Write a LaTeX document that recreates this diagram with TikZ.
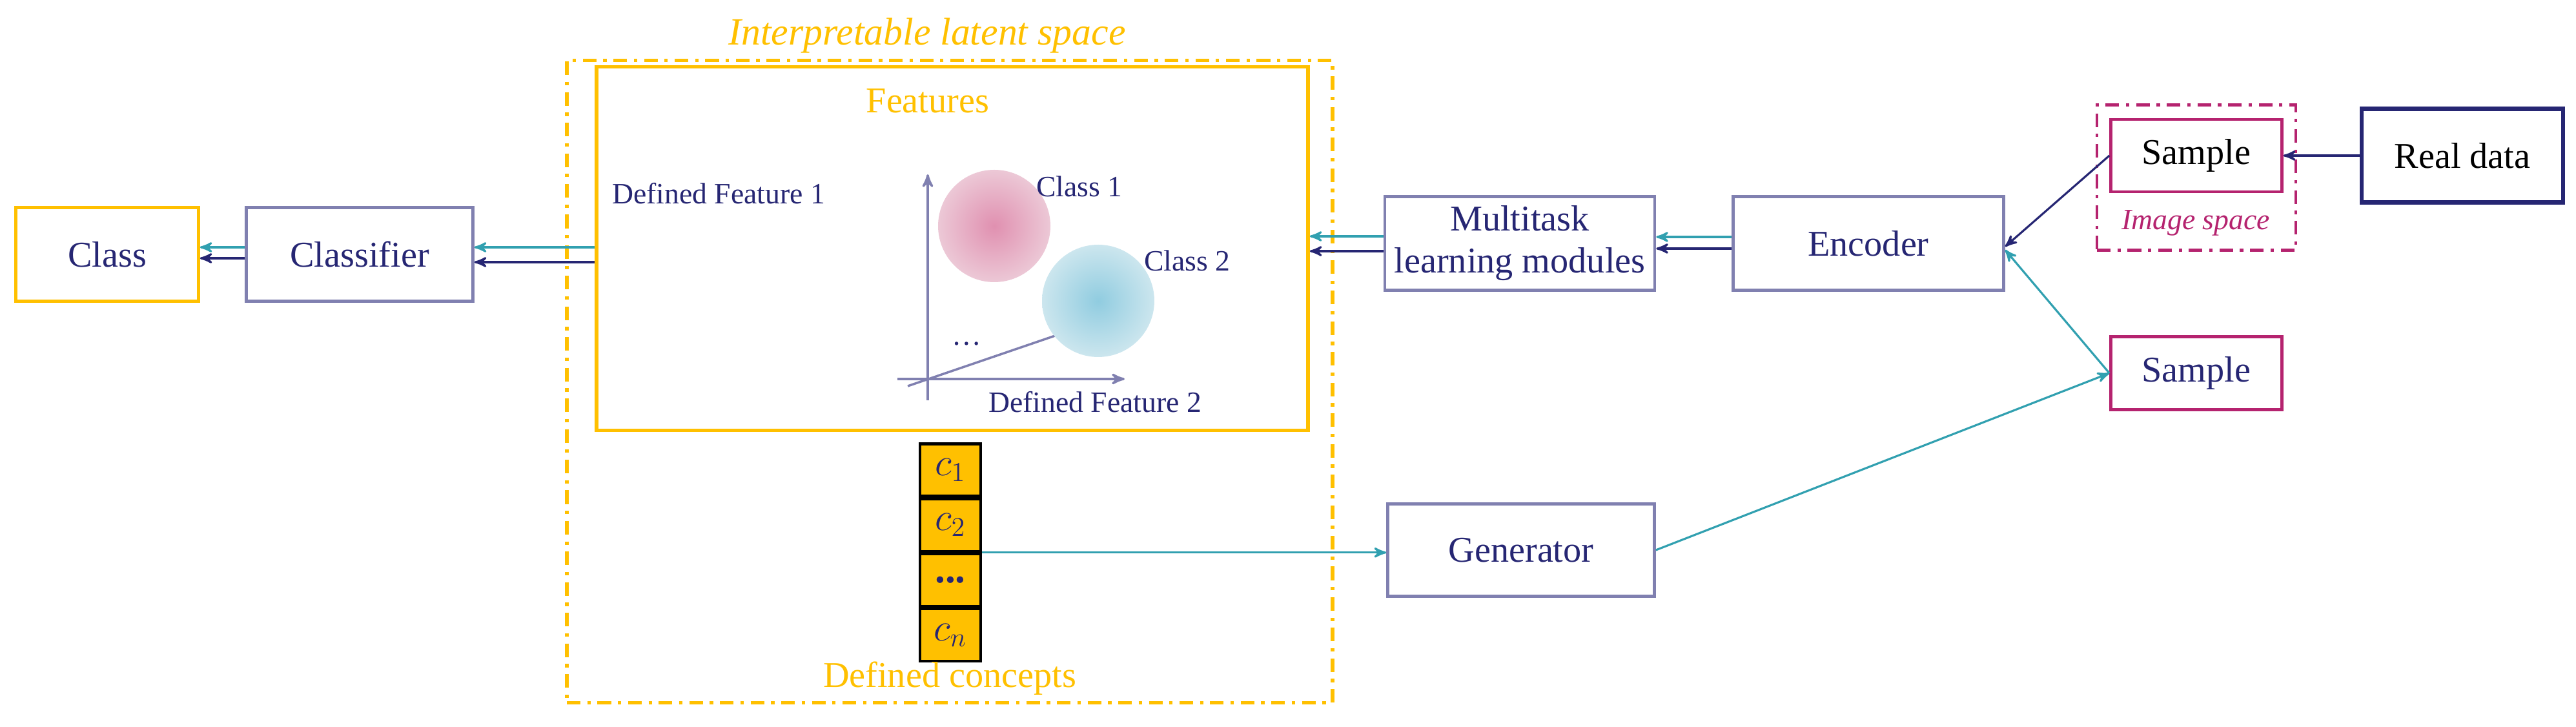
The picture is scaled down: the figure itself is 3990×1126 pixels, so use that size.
\documentclass[tikz,border=0pt]{standalone}
\usepackage{fontspec}
\setmainfont{Liberation Serif}
\usetikzlibrary{arrows,positioning}
\definecolor{gold}{HTML}{FFC000}
\definecolor{navy}{HTML}{262673}
\definecolor{lilac}{HTML}{8080B0}
\definecolor{plum}{HTML}{B5236F}
\definecolor{teal}{HTML}{31A0B0}
\definecolor{rosein}{HTML}{E090B0}
\definecolor{roseout}{HTML}{ECC8D6}
\definecolor{skyin}{HTML}{90CCE0}
\definecolor{skyout}{HTML}{CCE6EE}
\begin{document}
\begin{tikzpicture}[x=0.1mm,y=-0.1mm,>=stealth',semithick,
    box/.style={draw=lilac,line width=1.3pt,text=navy,font=\fontsize{16}{18.5}\selectfont,
                minimum height=14.5mm,align=center},
    cell/.style={draw=black,line width=1.2pt,fill=gold,text=navy,minimum width=9.4mm,
                 minimum height=8.1mm,inner sep=0pt,font=\fontsize{18}{20}\selectfont},
    lbl/.style={text=navy,font=\fontsize{13}{15}\selectfont},
    dd/.style={dash pattern=on 6pt off 3pt on 1.5pt off 3pt},
    cy/.style={teal,line width=0.9pt,->},
    nv/.style={navy,line width=0.9pt,->}]
  \useasboundingbox (0,0) rectangle (3990,1126);

  % left side
  \node[box,draw=gold,minimum width=28.3mm] (cls) at (166,394) {Class};
  \node[box,minimum width=35.1mm] (clf) at (557,394) {Classifier};

  % latent space
  \node[draw=gold,line width=1.5pt,dd,minimum width=118.6mm,minimum height=99.5mm] (lat) at (1471,591) {};
  \node[text=gold,font=\itshape\fontsize{17}{19}\selectfont] (latt) at (1436,55) {Interpretable latent space};
  \node[draw=gold,line width=1.6pt,minimum width=110.2mm,minimum height=56.3mm] (feat) at (1475,385) {};
  \node[text=gold,font=\fontsize{16}{18}\selectfont] (featt) at (1437,156) {Features};
  \node[lbl] (df1) at (1113,300) {Defined Feature 1};
  \node[lbl] (df2) at (1696,623) {Defined Feature 2};

  % feature plot
  \draw[lilac,line width=1pt,->] (1437,620) -- (1437,270);
  \draw[lilac,line width=1pt,->] (1390,587) -- (1742,587);
  \draw[lilac,line width=1pt] (1406,598) -- (1640,518);
  \shade[inner color=rosein,outer color=roseout,shading=radial] (1540,350) ellipse (87 and 87);
  \shade[inner color=skyin,outer color=skyout,shading=radial] (1701,466) ellipse (87 and 87);
  \node[lbl] (c1l) at (1672,289) {Class 1};
  \node[lbl] (c2l) at (1839,404) {Class 2};
  \node[lbl] (dots) at (1497,532) {\dots};

  % concepts
  \node[cell] (c1) at (1472,728) {$c_1$};
  \node[cell,below=0pt of c1] (c2) {$c_2$};
  \node[cell,below=0pt of c2] (c3) {\textbf{...}};
  \node[cell,below=0pt of c3] (cn) {$c_n$};
  \node[text=gold,font=\fontsize{16}{18}\selectfont] (dc) at (1471,1051) {Defined concepts};

  % middle and right
  \node[box,minimum width=41.8mm] (mtl) at (2354,377) {Multitask\\learning modules};
  \node[box,minimum width=41.9mm] (enc) at (2894,377) {Encoder};
  \node[box,minimum width=41.3mm,minimum height=14.3mm] (gen) at (2356,852) {Generator};
  \node[draw=plum,line width=1.4pt,dd,minimum width=30.8mm,minimum height=22.5mm] (imgsp) at (3402,275) {};
  \node[box,draw=plum,text=black,minimum width=26.5mm,minimum height=11.2mm] (smp) at (3402,241) {Sample};
  \node[text=plum,font=\itshape\fontsize{13}{15}\selectfont] (imgt) at (3401,345) {Image space};
  \node[box,draw=plum,minimum width=26.5mm,minimum height=11.3mm] (smp2) at (3402,578) {Sample};
  \node[box,draw=navy,line width=1.8pt,text=black,minimum width=31.2mm] (real) at (3814,241) {Real data};

  % connectors
  \draw[nv] (real) -- (smp);
  \draw[nv] (smp.west) -- ([yshift=-0.5mm]enc.east);
  \draw[cy] (smp2.west) -- ([yshift=-1mm]enc.east);
  \draw[cy] (gen.east) -- (smp2.west);
  \draw[cy] (c2.south east) -- (c2.south east -| gen.west);
  \draw[cy] ([yshift=1mm]enc.west) -- ([yshift=1mm]mtl.east);
  \draw[nv] ([yshift=-0.8mm]enc.west) -- ([yshift=-0.8mm]mtl.east);
  \draw[cy] ([yshift=1.1mm]mtl.west) -- ([yshift=1.1mm]mtl.west -| feat.east);
  \draw[nv] ([yshift=-1.2mm]mtl.west) -- ([yshift=-1.2mm]mtl.west -| feat.east);
  \draw[cy] (feat.west |- 0,383) -- (clf.east |- 0,383);
  \draw[nv] (feat.west |- 0,406) -- (clf.east |- 0,406);
  \draw[cy] (clf.west |- 0,383) -- (cls.east |- 0,383);
  \draw[nv] (clf.west |- 0,400) -- (cls.east |- 0,400);
\end{tikzpicture}
\end{document}
